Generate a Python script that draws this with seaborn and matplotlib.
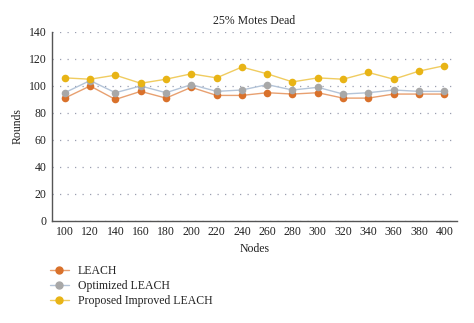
import matplotlib
matplotlib.use("Agg")
import matplotlib.pyplot as plt
import seaborn as sns
import pandas as pd
from matplotlib.lines import Line2D

nodes = [100, 120, 140, 160, 180, 200, 220, 240, 260, 280, 300, 320, 340, 360, 380, 400]
leach = [91, 100, 90, 96, 91, 99, 93, 93, 95, 94, 95, 91, 91, 94, 94, 94]
optimized = [95, 104, 95, 100, 95, 101, 96, 97, 101, 97, 99, 94, 95, 97, 96, 96]
proposed = [106, 105, 108, 102, 105, 109, 106, 114, 109, 103, 106, 105, 110, 105, 111, 115]
series_names = ["LEACH", "Optimized LEACH", "Proposed Improved LEACH"]
colors = ["#D9712B", "#A8A8A8", "#E8B416"]
line_colors = ["#E8A070", "#B4C4D8", "#F0CC60"]

sns.set_theme(style="white")
plt.rcParams['font.family'] = ['Liberation Serif', 'DejaVu Serif']

df = pd.DataFrame({
    "Nodes": [str(n) for n in nodes] * 3,
    "Rounds": leach + optimized + proposed,
    "Series": sum([[s] * len(nodes) for s in series_names], []),
})

fig = plt.figure(figsize=(4.74, 3.23), dpi=100)
ax = fig.add_axes([0.110, 0.316, 0.854, 0.585])

for name, c, lc in zip(series_names, colors, line_colors):
    sub = df[df["Series"] == name]
    ax.plot(range(len(nodes)), sub["Rounds"].values, color=lc, lw=1.0, zorder=2)
    sns.scatterplot(data=sub, x=range(len(nodes)), y="Rounds", color=c, s=30,
                    edgecolor=c, linewidth=0, ax=ax, zorder=3, legend=False)

ax.set_xlim(-0.5, len(nodes) - 0.5)
ax.set_ylim(0, 140)
ax.set_yticks(range(0, 141, 20))
ax.set_xticks(range(len(nodes)))
ax.set_xticklabels([str(n) for n in nodes])
ax.tick_params(axis='both', labelsize=8.5, length=0, pad=4, colors="#222222")
ax.yaxis.grid(True, linestyle=(0, (1, 5)), color="#9A9FB0", linewidth=0.9)
ax.xaxis.grid(False)
for s in ["top", "right"]:
    ax.spines[s].set_visible(False)
for s in ["left", "bottom"]:
    ax.spines[s].set_color("#555555")
    ax.spines[s].set_linewidth(1.0)
ax.set_axisbelow(True)

ax.set_title("25% Motes Dead", fontsize=8.5, pad=6, color="#222222")
ax.set_xlabel("Nodes", fontsize=8.5, labelpad=3, color="#222222")
ax.set_ylabel("Rounds", fontsize=8.5, labelpad=4, color="#222222")

handles = [Line2D([0], [0], color=lc, lw=1.0, marker='o', markersize=5,
                  markerfacecolor=c, markeredgecolor=c)
           for c, lc in zip(colors, line_colors)]
fig.legend(handles, series_names, loc="upper left", bbox_to_anchor=(0.095, 0.195),
           frameon=False, fontsize=8.5, handlelength=1.6, handletextpad=0.8,
           labelspacing=0.25, borderaxespad=0, labelcolor="#222222")

fig.savefig("out.png", dpi=100)
